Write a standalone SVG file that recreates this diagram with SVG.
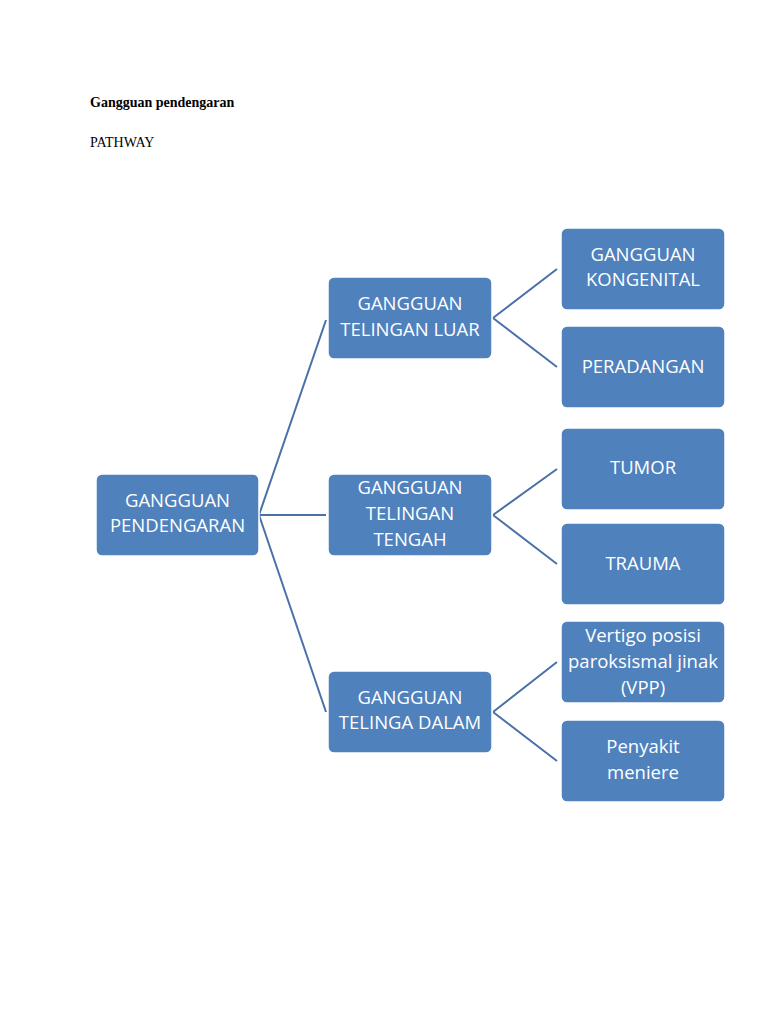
<svg xmlns="http://www.w3.org/2000/svg" width="768" height="1024" viewBox="0 0 768 1024">
<style>
.n{fill:#4F81BD;stroke:#fff;stroke-width:1.5}
.t{fill:#fff;font-family:"Open Sans",sans-serif;font-size:18.5px;text-anchor:middle}
.c{stroke:#4A70A8;stroke-width:2;fill:none}
.h{font-family:"Liberation Serif",serif;font-size:14px;fill:#000}
</style>
<rect width="768" height="1024" fill="#fff"/>
<text class="h" x="90" y="107" font-weight="bold">Gangguan pendengaran</text>
<text class="h" x="90" y="147">PATHWAY</text>
<g id="connectors">
<path class="c" d="M259 515 L326 320 M259 515 L326 515 M259 515 L326 712"/>
<path class="c" d="M493 318 L557 269 M493 318 L557 367"/>
<path class="c" d="M493 515 L557 469 M493 515 L557 564"/>
<path class="c" d="M493 712 L557 662 M493 712 L557 761"/>
</g>
<g id="root"><rect class="n" x="96" y="474" width="163" height="82" rx="6"/><text class="t" x="177.5" y="507">GANGGUAN</text><text class="t" x="177.5" y="532">PENDENGARAN</text></g>
<g id="luar"><rect class="n" x="328" y="277" width="164" height="82" rx="6"/><text class="t" x="410" y="310">GANGGUAN</text><text class="t" x="410" y="336">TELINGAN LUAR</text></g>
<g id="tengah"><rect class="n" x="328" y="474" width="164" height="82" rx="6"/><text class="t" x="410" y="494">GANGGUAN</text><text class="t" x="410" y="520">TELINGAN</text><text class="t" x="410" y="546">TENGAH</text></g>
<g id="dalam"><rect class="n" x="328" y="671" width="164" height="82" rx="6"/><text class="t" x="410" y="704">GANGGUAN</text><text class="t" x="410" y="729">TELINGA DALAM</text></g>
<g id="kongenital"><rect class="n" x="561" y="228" width="164" height="82" rx="6"/><text class="t" x="643" y="261">GANGGUAN</text><text class="t" x="643" y="286">KONGENITAL</text></g>
<g id="peradangan"><rect class="n" x="561" y="326" width="164" height="82" rx="6"/><text class="t" x="643" y="373">PERADANGAN</text></g>
<g id="tumor"><rect class="n" x="561" y="428" width="164" height="82" rx="6"/><text class="t" x="643" y="474">TUMOR</text></g>
<g id="trauma"><rect class="n" x="561" y="523" width="164" height="82" rx="6"/><text class="t" x="643" y="570">TRAUMA</text></g>
<g id="vpp"><rect class="n" x="561" y="621" width="164" height="82" rx="6"/><text class="t" x="643" y="642">Vertigo posisi</text><text class="t" x="643" y="668">paroksismal jinak</text><text class="t" x="643" y="694">(VPP)</text></g>
<g id="meniere"><rect class="n" x="561" y="720" width="164" height="82" rx="6"/><text class="t" x="643" y="753">Penyakit</text><text class="t" x="643" y="779">meniere</text></g>
</svg>
